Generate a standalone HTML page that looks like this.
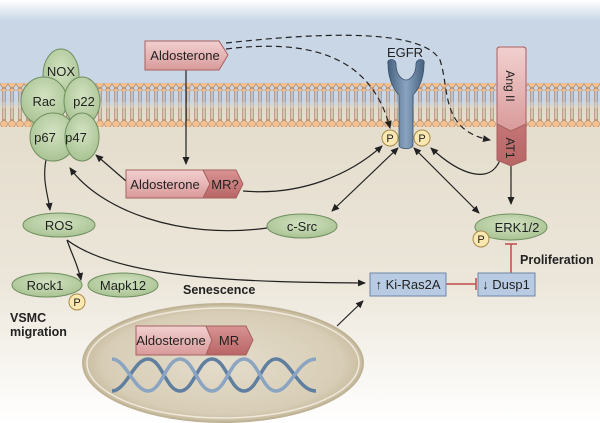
<!DOCTYPE html>
<html><head><meta charset="utf-8"><style>
html,body{margin:0;padding:0;background:#fff}
svg{display:block;font-family:"Liberation Sans",sans-serif}
</style></head><body>
<svg width="600" height="423" viewBox="0 0 600 423">
<defs>
<linearGradient id="bg" x1="0" y1="0" x2="0" y2="1">
<stop offset="0" stop-color="#ffffff"/><stop offset="0.2" stop-color="#c8d6e6"/>
</linearGradient>
<linearGradient id="bg2" x1="0" y1="0" x2="0" y2="1">
<stop offset="0" stop-color="#e3dccb"/><stop offset="0.55" stop-color="#ece6da"/><stop offset="1" stop-color="#ffffff"/>
</linearGradient>
<linearGradient id="pk" x1="0" y1="0" x2="0" y2="1">
<stop offset="0" stop-color="#f2d0d0"/><stop offset="1" stop-color="#d99a9a"/>
</linearGradient>
<linearGradient id="pkd" x1="0" y1="0" x2="0" y2="1">
<stop offset="0" stop-color="#d99393"/><stop offset="1" stop-color="#b86565"/>
</linearGradient>
<radialGradient id="gr" cx="0.5" cy="0.4" r="0.6">
<stop offset="0" stop-color="#d3e2c2"/><stop offset="1" stop-color="#a9c393"/>
</radialGradient>
<linearGradient id="bl" x1="0" y1="0" x2="1" y2="0">
<stop offset="0" stop-color="#44607e"/><stop offset="0.5" stop-color="#8aa4c0"/><stop offset="1" stop-color="#44607e"/>
</linearGradient>
<radialGradient id="nuc" cx="0.5" cy="0.5" r="0.5">
<stop offset="0" stop-color="#e4dccb"/><stop offset="0.85" stop-color="#d8ceb7"/><stop offset="1" stop-color="#c9bca0"/>
</radialGradient>
<pattern id="heads" x="0" y="0" width="8" height="8" patternUnits="userSpaceOnUse">
<circle cx="4" cy="4" r="3.4" fill="#f3c08e" stroke="#b88258" stroke-width="0.6"/>
</pattern>
<pattern id="tails" x="0" y="0" width="8" height="40" patternUnits="userSpaceOnUse">
<line x1="2.8" y1="0" x2="2.8" y2="40" stroke="#a87f66" stroke-width="0.9"/>
<line x1="5.2" y1="0" x2="5.2" y2="40" stroke="#a87f66" stroke-width="0.9"/>
</pattern>
<marker id="ar" markerWidth="8" markerHeight="8" refX="7" refY="4" orient="auto" markerUnits="userSpaceOnUse">
<path d="M0,0.5 L8,4 L0,7.5 z" fill="#222"/></marker>
<marker id="ars" markerWidth="8" markerHeight="8" refX="1" refY="4" orient="auto" markerUnits="userSpaceOnUse">
<path d="M8,0.5 L0,4 L8,7.5 z" fill="#222"/></marker>
</defs>
<rect width="600" height="105" fill="url(#bg)"/>
<rect y="105" width="600" height="318" fill="url(#bg2)"/>
<!-- membrane -->
<rect x="0" y="87" width="600" height="36" fill="url(#tails)"/>
<rect x="0" y="102" width="600" height="6" fill="#d8d5cf" opacity="0.5"/>
<rect x="0" y="83" width="600" height="8" fill="url(#heads)"/>
<rect x="0" y="119" width="600" height="8" fill="url(#heads)"/>

<!-- arrows -->
<g fill="none" stroke="#222" stroke-width="1.2">
<path d="M226,49 C300,40 370,50 390,128" stroke-dasharray="6,4" marker-end="url(#ar)"/>
<path d="M226,43 C300,35 420,25 440,60 C450,90 440,130 490,140" stroke-dasharray="6,4" marker-end="url(#ar)"/>
<line x1="186" y1="70" x2="186" y2="164" marker-end="url(#ar)"/>
<line x1="126" y1="181" x2="96" y2="155" marker-end="url(#ar)"/>
<path d="M267,228 C180,240 100,210 70,168" marker-end="url(#ar)"/>
<path d="M243,191 C300,196 350,175 382,146" marker-end="url(#ar)"/>
<line x1="398" y1="148" x2="332" y2="211" marker-start="url(#ars)" marker-end="url(#ar)"/>
<line x1="414" y1="148" x2="479" y2="213" marker-start="url(#ars)" marker-end="url(#ar)"/>
<path d="M500,160 C490,185 460,175 431,148" marker-end="url(#ar)"/>
<line x1="511" y1="165" x2="511" y2="204" marker-end="url(#ar)"/>
<path d="M46,160 C42,180 48,195 50,210" marker-end="url(#ar)"/>
<path d="M67,240 C72,255 78,265 81,280" marker-end="url(#ar)"/>
<path d="M67,240 C120,280 250,282 365,283" marker-end="url(#ar)"/>
<line x1="337" y1="326" x2="363" y2="301" marker-end="url(#ar)"/>
</g>
<g stroke="#c04a4a" stroke-width="1.5" fill="none">
<line x1="446" y1="284" x2="476" y2="284"/><line x1="476" y1="278" x2="476" y2="290"/>
<line x1="511" y1="273" x2="511" y2="244"/><line x1="505" y1="244" x2="517" y2="244"/>
</g>

<!-- NOX cluster -->
<g stroke="#6f8f5f" stroke-width="1" fill="url(#gr)">
<ellipse cx="61" cy="75" rx="18" ry="26"/>
<ellipse cx="44" cy="101" rx="23" ry="24"/>
<ellipse cx="82" cy="101" rx="18" ry="24"/>
<ellipse cx="53" cy="137" rx="23" ry="24"/>
<ellipse cx="82" cy="137" rx="17" ry="24"/>
<ellipse cx="59" cy="225" rx="36" ry="12"/>
<ellipse cx="302" cy="226" rx="35" ry="12"/>
<ellipse cx="511" cy="227" rx="36" ry="13"/>
<ellipse cx="47" cy="285" rx="35" ry="12"/>
<ellipse cx="123" cy="285" rx="35" ry="12"/>
</g>
<g font-size="13" fill="#222" text-anchor="middle">
<text x="61" y="76">NOX</text><text x="44" y="106">Rac</text><text x="84" y="106">p22</text>
<text x="45" y="142">p67</text><text x="76" y="142">p47</text>
<text x="59" y="230">ROS</text><text x="302" y="231">c-Src</text><text x="517" y="232">ERK1/2</text>
<text x="45" y="290">Rock1</text><text x="123" y="290">Mapk12</text>
</g>

<!-- Aldosterone top -->
<path d="M145,41 H219 L228,55 L219,70 H145 z" fill="url(#pk)" stroke="#a86060"/>
<text x="185" y="60" font-size="13" text-anchor="middle" fill="#222">Aldosterone</text>
<!-- Aldosterone MR? -->
<path d="M126,170 H203 L210,184 L203,198 H126 z" fill="url(#pk)" stroke="#a86060"/>
<path d="M203,170 H236 L243,184 L236,198 H203 L210,184 z" fill="url(#pkd)" stroke="#a86060"/>
<text x="165" y="189" font-size="13" text-anchor="middle" fill="#222">Aldosterone</text>
<text x="225" y="189" font-size="13" text-anchor="middle" fill="#222">MR?</text>

<!-- EGFR -->
<path d="M388,64 C386,58 396,58 396,64 C396,76 403,80 406,80 C409,80 416,76 416,64 C416,58 426,58 424,64 C424,82 416,92 413,95 V145 C413,150 399,150 399,145 V95 C396,92 388,82 388,64 z" fill="url(#bl)" stroke="#3a5470" stroke-width="0.8"/>
<text x="405" y="57" font-size="13" text-anchor="middle" fill="#222">EGFR</text>
<g stroke="#a8884a" fill="#fbe8b0">
<circle cx="390" cy="138" r="8"/><circle cx="422" cy="138" r="8"/>
<circle cx="481" cy="239" r="8"/><circle cx="77" cy="302" r="8"/>
</g>
<g font-size="11" text-anchor="middle" fill="#222">
<text x="390" y="142">P</text><text x="422" y="142">P</text><text x="481" y="243">P</text><text x="77" y="306">P</text>
</g>

<!-- AT1 -->
<path d="M497,50 Q497,47 500,47 H523 Q526,47 526,50 V160 L511,166 L497,160 z" fill="url(#pkd)" stroke="#a86060"/>
<path d="M497,50 Q497,47 500,47 H523 Q526,47 526,50 V124 L511,131 L497,124 z" fill="url(#pk)" stroke="#a86060"/>
<text transform="translate(506,86) rotate(90)" font-size="12" text-anchor="middle" fill="#222">Ang II</text>
<text transform="translate(506,148) rotate(90)" font-size="12" text-anchor="middle" fill="#222">AT1</text>

<!-- Blue boxes -->
<rect x="370" y="273" width="76" height="23" fill="#b9cbe2" stroke="#6d86a8"/>
<rect x="478" y="273" width="57" height="23" fill="#b9cbe2" stroke="#6d86a8"/>
<text x="408" y="289" font-size="13" text-anchor="middle" fill="#222">↑ Ki-Ras2A</text>
<text x="506" y="289" font-size="13" text-anchor="middle" fill="#222">↓ Dusp1</text>
<text x="520" y="264" font-size="12.5" font-weight="bold" fill="#222">Proliferation</text>
<text x="183" y="294" font-size="12.5" font-weight="bold" fill="#222">Senescence</text>
<text x="10" y="322" font-size="12.5" font-weight="bold" fill="#222">VSMC</text>
<text x="10" y="336" font-size="12.5" font-weight="bold" fill="#222">migration</text>

<!-- nucleus -->
<ellipse cx="223" cy="363" rx="140" ry="59" fill="url(#nuc)" stroke="#bfb396" stroke-width="2"/>
<ellipse cx="223" cy="363" rx="136" ry="55" fill="none" stroke="#efe9dc" stroke-width="1.5"/>
<path d="M136,326 H206 L212,340 L206,355 H136 z" fill="url(#pk)" stroke="#a86060"/>
<path d="M206,326 H246 L253,340 L246,355 H206 L212,340 z" fill="url(#pkd)" stroke="#a86060"/>
<text x="171" y="345" font-size="13" text-anchor="middle" fill="#222">Aldosterone</text>
<text x="229" y="345" font-size="13" text-anchor="middle" fill="#222">MR</text>
<g fill="none" stroke="#5f7ea0" stroke-width="3.5">
<path d="M112,391 C126,391 134,359 148,359 C162,359 166,391 180,391 C194,391 198,359 212,359 C226,359 230,391 244,391 C258,391 262,359 276,359 C290,359 298,391 316,391"/>
<path d="M112,359 C126,359 134,391 148,391 C162,391 166,359 180,359 C194,359 198,391 212,391 C226,391 230,359 244,359 C258,359 262,391 276,391 C290,391 298,359 316,359" stroke="#8aa4c2"/>
</g>
</svg>
</body></html>
